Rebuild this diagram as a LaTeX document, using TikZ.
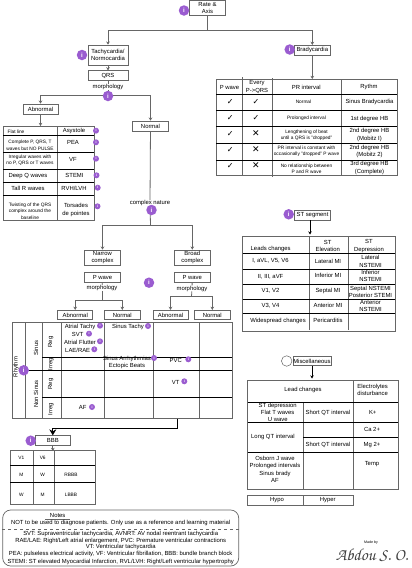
\documentclass[tikz,border=0pt]{standalone}
\usepackage{fontspec}
\setmainfont{Liberation Sans}
\newfontfamily\symfont{DejaVu Sans}
\usetikzlibrary{positioning,arrows.meta,calc}
\usepackage{xcolor}
\definecolor{infopurple}{HTML}{9A5CD0}
\definecolor{linegray}{HTML}{666666}
\tikzset{
  boxed/.style={draw=linegray,line width=0.7pt,fill=white,align=center,inner sep=0pt},
  conn/.style={draw=linegray,line width=0.8pt,-{Stealth[length=3.2pt,width=3.6pt]}},
  plainconn/.style={draw=linegray,line width=0.8pt},
  infobig/.style={circle,fill=infopurple,text=white,inner sep=0pt,minimum size=10.5pt,font=\fontsize{6}{7}\selectfont\bfseries},
  infosmall/.style={circle,fill=infopurple,text=white,inner sep=0pt,minimum size=6pt,font=\fontsize{3.5}{4}\selectfont\bfseries},
  cell/.style={align=center,inner sep=0pt},
  small/.style={align=center,inner sep=0pt,font=\fontsize{4.8}{6.3}\selectfont},
  hline/.style={draw=black,line width=0.6pt},
  vline/.style={draw=linegray,line width=1pt},
  outer/.style={draw=linegray,line width=0.7pt},
}
\begin{document}
\begin{tikzpicture}[x=1pt,y=-1pt,every node/.style={font=\fontsize{5.9}{7.2}\selectfont}]
\useasboundingbox (0,0) rectangle (412,568);
% top of the tree
\node[boxed,minimum width=35.5pt,minimum height=15.5pt] (rate) at (207.5,8) {Rate \&\\Axis};
\coordinate (ratesplit) at (207.5,30.5);
\node[boxed,minimum width=40pt,minimum height=20pt] (tachy) at (108,55) {Tachycardia/\\Normocardia};
\node[boxed,minimum width=35.5pt,minimum height=10pt] (brady) at (312.3,50.3) {Bradycardia};
\draw[plainconn] (rate.south) -- (ratesplit);
\draw[conn] (ratesplit) -| (tachy.north);
\draw[conn] (ratesplit) -| (brady.north);
% tachy branch
\node[boxed,minimum width=40pt,minimum height=9.5pt] (qrs) at (108,75.5) {QRS};
\node[cell,fill=white] (qrsmorph) at (108,87) {morphology};
\coordinate (qrssplit) at (108,95.5);
\node[boxed,minimum width=35pt,minimum height=10pt] (abn) at (40.5,109) {Abnormal};
\node[boxed,minimum width=35.5pt,minimum height=10pt] (norm) at (150.5,126) {Normal};
\draw[conn] (tachy) -- (qrs);
\draw[plainconn] (qrs) -- (qrsmorph);
\draw[plainconn] (qrsmorph) -- (qrssplit);
\draw[conn] (qrssplit) -| (abn.north);
\draw[conn] (qrssplit) -| (norm.north);
% abnormal table
\coordinate (abntable) at (40.5,126);
\draw[conn] (abn.south) -- (abntable);
\draw[outer] (3,126) rectangle (94,220.5);
\draw[vline] (57.3,126) -- (57.3,220.5);
\draw[hline] (3,135.7) -- (94,135.7);
\draw[hline] (3,152) -- (94,152);
\draw[hline] (3,169) -- (94,169);
\draw[hline] (3,182.7) -- (94,182.7);
\draw[hline] (3,195.7) -- (94,195.7);
\node[small] (flat) at (16,131.5) {Flat line};
\node[cell] (asys) at (74,131) {Asystole};
\node[small] (pulse) at (30,145.3) {Complete P, QRS, T\\waves but NO PULSE};
\node[cell] (pea) at (73,142) {PEA};
\node[small] (irreg) at (30,160.5) {Irregular waves with\\no P, QRS or T waves};
\node[cell] (vf) at (73,159) {VF};
\node[cell] (deepq) at (28,175.7) {Deep Q waves};
\node[cell] (stemi) at (74.5,175.7) {STEMI};
\node[cell] (tallr) at (28,188.7) {Tall R waves};
\node[cell] (rvh) at (74,188.7) {RVH/LVH};
\node[small] (twist) at (30,211) {Twisting of the QRS\\complex around the\\baseline};
\node[cell] (tors) at (76,210) {Torsades\\de pointes};
% normal branch
\node[cell,fill=white] (nature) at (150,203) {complex nature};
\coordinate (naturesplit) at (150.5,225);
\node[boxed,minimum width=36pt,minimum height=15pt] (narrow) at (102.5,257.5) {Narrow\\complex};
\node[boxed,minimum width=36pt,minimum height=15pt] (broad) at (192.3,257.5) {Broad\\complex};
\draw[plainconn] (norm) -- (nature);
\draw[plainconn] (nature) -- (naturesplit);
\draw[conn] (naturesplit) -| (narrow.north);
\draw[conn] (naturesplit) -| (broad.north);
\node[boxed,minimum width=36pt,minimum height=9.5pt] (pnarrow) at (102.5,277.5) {P wave};
\node[boxed,minimum width=36pt,minimum height=9.5pt] (pbroad) at (192.3,277.5) {P wave};
\node[cell,fill=white] (morphn) at (102,288) {morphology};
\node[cell,fill=white] (morphb) at (192,288.5) {morphology};
\coordinate (splitn) at (102,300.3);
\coordinate (splitb) at (191.5,296.7);
\node[boxed,minimum width=35pt,minimum height=9.5pt] (abn1) at (75.2,315) {Abnormal};
\node[boxed,minimum width=35.5pt,minimum height=9.5pt] (norm1) at (122.3,315) {Normal};
\node[boxed,minimum width=35pt,minimum height=9.5pt] (abn2) at (170.5,315) {Abnormal};
\node[boxed,minimum width=35.5pt,minimum height=9.5pt] (norm2) at (212.3,315) {Normal};
\draw[plainconn] (pnarrow) -- (morphn);
\draw[plainconn] (morphn) -- (splitn);
\draw[plainconn] (pbroad) -- (morphb);
\draw[plainconn] (morphb) -- (splitb);
\draw[conn] (splitn) -| (abn1.north);
\draw[conn] (splitn) -| (norm1.north);
\draw[conn] (splitb) -| (abn2.north);
\draw[conn] (splitb) -| (norm2.north);
% rhythm grid
\draw[outer] (12.7,322.7) rectangle (232,418.7);
\draw[vline] (25.3,322.7) -- (25.3,418.7);
\draw[vline] (42,322.7) -- (42,418.7);
\draw[vline] (61,322.7) -- (61,418.7);
\draw[vline] (104,322.7) -- (104,418.7);
\draw[vline] (153,322.7) -- (153,418.7);
\draw[vline] (199,322.7) -- (199,418.7);
\draw[hline] (42,357.3) -- (232,357.3);
\draw[hline] (25.3,370.3) -- (232,370.3);
\draw[hline] (42,397.3) -- (232,397.3);
\node[cell,rotate=90] (rhythm) at (16,367) {Rhythm};
\node[cell,rotate=90] (sinus) at (36,348) {Sinus};
\node[cell,rotate=90] (nonsinus) at (36,394) {Non Sinus};
\node[cell,rotate=90] (reg1) at (50.7,342) {Reg};
\node[cell,rotate=90] (irr1) at (51,364) {Irreg};
\node[cell,rotate=90] (reg2) at (50.7,384) {Reg};
\node[cell,rotate=90] (irr2) at (51,409) {Irreg};
\node[cell] (atach) at (80,327) {Atrial Tachy};
\node[cell] (svt) at (77.7,334.7) {SVT};
\node[cell] (aflut) at (80,342.3) {Atrial Flutter};
\node[cell] (lae) at (77.7,350) {LAE/RAE};
\node[cell] (stach) at (128,327) {Sinus Tachy};
\node[cell] (sarr) at (127,362.3) {Sinus Arrhythmias\\Ectopic Beats};
\node[cell] (pvc) at (175.7,360) {PVC};
\node[cell] (vt) at (175.7,382) {VT};
\node[cell] (af) at (82.7,407.3) {AF};
% bbb
\node[boxed,minimum width=35.7pt,minimum height=9.6pt] (bbb) at (52.8,440.5) {BBB};
\coordinate (gridout) at (177.7,418.7);
\draw[draw=black,line width=1pt,-{Stealth[length=6pt,width=7pt]}] (gridout) -- (177.7,428.5) -| (bbb.north);
\coordinate (bbbtable) at (52.8,451);
\draw[conn] (bbb.south) -- (bbbtable);
\draw[outer] (10,450.7) rectangle (95.3,504.3);
\draw[vline] (33,450.7) -- (33,504.3);
\draw[vline] (54,450.7) -- (54,504.3);
\draw[hline] (10,465.3) -- (95.3,465.3);
\draw[hline] (10,482.3) -- (95.3,482.3);
\node[small] (v1) at (21.3,458.3) {V1};
\node[small] (v6) at (42.7,458.3) {V6};
\node[small] (m1) at (21.3,474.7) {M};
\node[small] (w1) at (42.7,474.7) {W};
\node[small] (rbbb) at (71,474.7) {RBBB};
\node[small] (w2) at (21.3,494.7) {W};
\node[small] (m2) at (42.7,494.7) {M};
\node[small] (lbbb) at (71,494.7) {LBBB};
% notes
\node[draw=linegray,line width=0.7pt,rounded corners=8pt,minimum width=236pt,minimum height=56pt,inner sep=0pt] (notes) at (120.7,538) {};
\draw[draw=linegray,line width=0.5pt,dashed] (notes.west |- 0,529.3) -- (notes.east |- 0,529.3);
\draw[draw=linegray,line width=0.4pt] (45,519) -- (70,519);
\node[cell] (notestitle) at (57.7,515) {Notes};
\node[cell] (note1) at (120.7,522.7) {NOT to be used to diagnose patients. Only use as a reference and learning material};
\node[cell] (note2) at (120.7,533.5) {SVT: Supraventricular tachycardia, AVNRT: AV nodal reentrant tachycardia};
\node[cell] (note3) at (120.7,540.7) {RAE/LAE: Right/Left atrial enlargement, PVC: Premature ventricular contractions};
\node[cell] (note4) at (120.7,547.3) {VT: Ventricular tachycardia};
\node[cell] (note5) at (120.7,554.3) {PEA: pulseless electrical activity, VF: Ventricular fibrillation, BBB: bundle branch block};
\node[cell] (note6) at (120.7,561.7) {STEMI: ST elevated Myocardial Infarction, RVL/LVH: Right/Left ventricular hypertrophy};
% brady table
\coordinate (bradytable) at (312.3,79);
\draw[conn] (brady.south) -- (bradytable);
\draw[outer] (216.3,79.3) rectangle (397.3,175.7);
\draw[vline] (242,77) -- (242,175.7);
\draw[vline] (272,78) -- (272,176.5);
\draw[vline] (341.3,79.3) -- (341.3,175.7);
\draw[hline] (216.3,94.3) -- (397.3,94.3);
\draw[hline] (216.3,110) -- (397.3,110);
\draw[hline] (216.3,126.3) -- (397.3,126.3);
\draw[hline] (216.3,143.3) -- (397.3,143.3);
\draw[hline] (216.3,160.3) -- (397.3,160.3);
\node[cell] (hpw) at (229.5,87) {P wave};
\node[cell] (hev) at (257,87) {Every\\P->QRS};
\node[cell] (hpr) at (306.3,87) {PR interval};
\node[cell] (hry) at (369,87) {Rythm};
\foreach \r/\y in {a/101.5,b/117.5,c/134,d/150,e/166}
  \node[cell,font=\symfont\fontsize{8}{8}\selectfont] (chk\r) at (230.3,\y) {✓};
\node[cell,font=\symfont\fontsize{8}{8}\selectfont] (chkf) at (256,101.5) {✓};
\node[cell,font=\symfont\fontsize{8}{8}\selectfont] (chkg) at (256,117.5) {✓};
\node[cell,font=\symfont\fontsize{9}{9}\selectfont] (crsa) at (256,133.5) {✕};
\node[cell,font=\symfont\fontsize{9}{9}\selectfont] (crsb) at (256,150) {✕};
\node[cell,font=\symfont\fontsize{9}{9}\selectfont] (crsc) at (256,166) {✕};
\node[small] (pr1) at (303.5,102) {Normal};
\node[small] (pr2) at (306.5,118.5) {Prolonged interval};
\node[small] (pr3) at (306.5,135.5) {Lengthening of beat\\until a QRS is "dropped"};
\node[small] (pr4) at (306.5,151.5) {PR interval is constant with\\occasionally "dropped" P wave};
\node[small] (pr5) at (306.5,168.5) {No relationship between\\P and R wave};
\node[cell] (ry1) at (369.5,102) {Sinus Bradycardia};
\node[cell] (ry2) at (369.5,118.5) {1st degree HB};
\node[cell] (ry3) at (369.5,135) {2nd degree HB\\(Mobitz I)};
\node[cell] (ry4) at (369.5,151.5) {2nd degree HB\\(Mobitz 2)};
\node[cell] (ry5) at (369.5,168) {3rd degree HB\\(Complete)};
% st segment
\node[boxed,minimum width=35.6pt,minimum height=9.7pt] (st) at (312.5,215.2) {ST segment};
\coordinate (sttable) at (310,234.5);
\draw[conn,draw=black] (st.south -| sttable) -- (sttable);
\draw[outer] (242.7,236.3) rectangle (395,331);
\draw[vline] (309.7,236.3) -- (309.7,330);
\draw[vline] (348.7,236.3) -- (348.7,330);
\draw[hline] (242.7,253.7) -- (395,253.7);
\draw[hline] (242.7,269) -- (395,269);
\draw[hline] (242.7,284) -- (395,284);
\draw[hline] (242.7,299) -- (395,299);
\draw[hline] (242.7,313.3) -- (395,313.3);
\node[cell] (hlead) at (270.7,248.5) {Leads changes};
\node[cell] (hele) at (327.7,246) {ST\\Elevation};
\node[cell] (hdep) at (369,246) {ST\\Depression};
\node[cell] (lead1) at (270.5,261.3) {I, aVL, V5, V6};
\node[cell] (ele1) at (328,261.3) {Lateral MI};
\node[cell] (dep1) at (370.5,261.3) {Lateral\\NSTEMI};
\node[cell] (lead2) at (270.5,276.5) {II, III, aVF};
\node[cell] (ele2) at (328,275.5) {Inferior MI};
\node[cell] (dep2) at (370.5,276) {Inferior\\NSTEMI};
\node[cell] (lead3) at (270.5,291) {V1, V2};
\node[cell] (ele3) at (328,291) {Septal MI};
\node[cell] (dep3) at (370.5,291.5) {Septal NSTEMI\\Posterior STEMI};
\node[cell] (lead4) at (270.5,305.5) {V3, V4};
\node[cell] (ele4) at (328,305.5) {Anterior MI};
\node[cell] (dep4) at (370.5,306) {Anterior\\NSTEMI};
\node[cell] (lead5) at (278,320.5) {Widespread changes};
\node[cell] (ele5) at (328,320.5) {Pericarditis};
% misc
\node[boxed,minimum width=38pt,minimum height=8.5pt] (misc) at (312,361) {Miscellaneous};
\coordinate (misctable) at (312,378.5);
\draw[conn,draw=black] (misc.south) -- (misctable);
\draw[outer] (247.7,380) rectangle (398.3,489.3);
\draw[vline] (303.3,402.3) -- (303.3,489.3);
\draw[vline] (353.3,380) -- (353.3,489.3);
\draw[hline] (247.7,402.3) -- (398.3,402.3);
\draw[hline] (247.7,422.7) -- (398.3,422.7);
\draw[hline] (303.3,437.7) -- (398.3,437.7);
\draw[hline] (247.7,452) -- (398.3,452);
\node[cell] (mlead) at (303,390) {Lead changes};
\node[cell] (melec) at (372.7,390) {Electrolytes\\disturbance};
\node[cell] (mst) at (277.7,412.5) {ST depression\\Flat T waves\\U wave};
\node[cell] (mqt1) at (328,412.7) {Short QT interval};
\node[cell] (mk) at (372.7,412.7) {K+};
\node[cell] (mlong) at (273,437) {Long QT interval};
\node[cell] (mca) at (372,429.3) {Ca 2+};
\node[cell] (mqt2) at (328,444.5) {Short QT interval};
\node[cell] (mmg) at (372,444.7) {Mg 2+};
\node[cell] (mos) at (275,469.3) {Osborn J wave\\Prolonged intervals\\Sinus brady\\AF};
\node[cell] (mtemp) at (372,464.3) {Temp};
\draw[outer] (247.7,495.3) rectangle (353.3,505.3);
\draw[vline] (303.3,495.3) -- (303.3,505.3);
\node[cell] (hypo) at (277,500.3) {Hypo};
\node[cell] (hyper) at (327.7,500.3) {Hyper};
% signature
\node[cell,font=\fontsize{3.6}{4}\selectfont] (madeby) at (371,543) {Made by};
\node[cell,font=\usefont{OT1}{pzc}{mb}{it}\fontsize{17}{17}\selectfont,text=black!75] (sign) at (372,555) {Abdou S. O.};
% info marks
\node[infobig] (irate) at (184,10.5) {i};
\node[infobig] (itachy) at (82,55) {i};
\node[infobig] (iqrs) at (108,96) {i};
\node[infobig] (ibrady) at (289.7,49.5) {i};
\node[infobig] (inat) at (151.5,210) {i};
\node[infobig] (ipw) at (149,282.7) {i};
\node[infobig] (irhy) at (23.7,370.3) {i};
\node[infobig] (ibbb) at (30.7,440.7) {i};
\node[infobig] (ist) at (288.7,214.3) {i};
\node[draw=linegray,line width=0.5pt,circle,fill=white,inner sep=0pt,minimum size=10.5pt] (imisc) at (286.7,361) {};
\node[infosmall] (i1) at (96,130.7) {i};
\node[infosmall] (i2) at (96,142.3) {i};
\node[infosmall] (i3) at (96,158.7) {i};
\node[infosmall] (i4) at (96.5,175.3) {i};
\node[infosmall] (i5) at (97.7,187.7) {i};
\node[infosmall] (i6) at (97.5,206.3) {i};
\node[infosmall] (i7) at (100,325.7) {i};
\node[infosmall] (i8) at (89,333.7) {i};
\node[infosmall] (i9) at (100,341.3) {i};
\node[infosmall] (i10) at (94.3,349.3) {i};
\node[infosmall] (i11) at (148,326) {i};
\node[infosmall] (i12) at (154,358) {i};
\node[infosmall] (i13) at (188.3,359.3) {i};
\node[infosmall] (i14) at (184.3,381.3) {i};
\node[infosmall] (i15) at (92,407) {i};
\end{tikzpicture}
\end{document}
